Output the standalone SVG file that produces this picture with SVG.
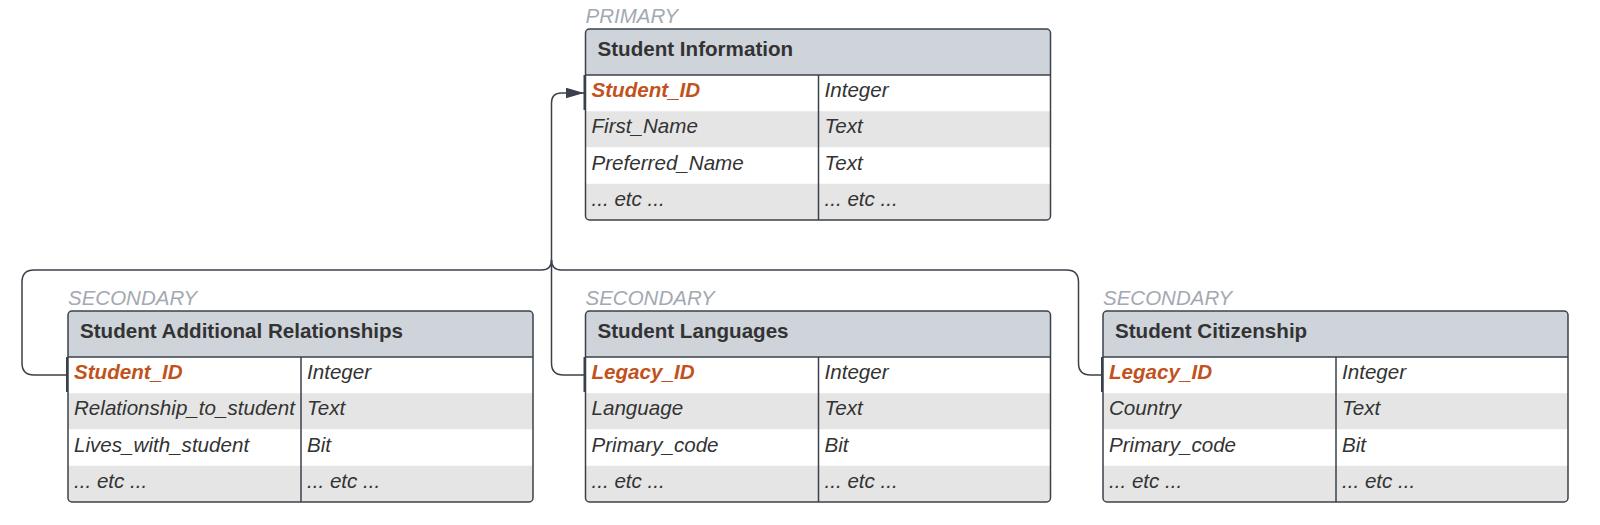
<svg xmlns="http://www.w3.org/2000/svg" width="1600" height="525" viewBox="0 0 1600 525">
  <defs>
    <clipPath id="tclip" clipPathUnits="userSpaceOnUse">
      <rect x="0" y="0" width="465" height="191" rx="4" ry="4"/>
    </clipPath>
    <marker id="arrow" markerUnits="userSpaceOnUse" markerWidth="20" markerHeight="12" refX="18" refY="5.3" orient="auto">
      <path d="M0,0 L18,5.3 L0,10.6 z" fill="#3a414a"/>
    </marker>
    <style>
      .hdr { fill: #cfd4db; }
      .w { fill: #ffffff; }
      .g { fill: #e5e5e5; }
      .edge { fill: none; stroke: #3a414a; stroke-width: 1.5; }
      .div { stroke: #3a414a; stroke-width: 1.5; }
      .bar { stroke: #3a414a; stroke-width: 2; }
      .lbl { font-family: "Liberation Sans", Arial, sans-serif; font-size: 20.5px; font-style: italic; fill: #a3a9b2; }
      .title { font-family: "Liberation Sans", Arial, sans-serif; font-size: 20.6px; font-weight: bold; fill: #333333; }
      .cell { font-family: "Liberation Sans", Arial, sans-serif; font-size: 20.6px; font-style: italic; fill: #333333; }
      .key { font-family: "Liberation Sans", Arial, sans-serif; font-size: 20.6px; font-style: italic; font-weight: bold; fill: #c2521d; }
      .conn { fill: none; stroke: #3a414a; stroke-width: 1.5; }
    </style>
  </defs>
  <rect x="0" y="0" width="1600" height="525" fill="#ffffff"/>

  <g id="connectors">
    <path class="conn" d="M68,375 H34 Q22,375 22,363 V282 Q22,270 34,270 H541.5 Q551.5,270 551.5,260 V103 Q551.5,93 561.5,93 H584" marker-end="url(#arrow)"/>
    <path class="conn" d="M585.5,375 H563.5 Q551.5,375 551.5,363 V260"/>
    <path class="conn" d="M1103,375 H1090.5 Q1078.5,375 1078.5,363 V282 Q1078.5,270 1066.5,270 H561.5 Q551.5,270 551.5,260"/>
  </g>

  <g id="student-information" transform="translate(585.5,29)">
    <text class="lbl" x="0" y="-6">PRIMARY</text>
    <g clip-path="url(#tclip)">
      <rect class="hdr" x="0" y="0" width="465" height="46"/>
      <rect class="w" x="0" y="46" width="465" height="36.25"/>
      <rect class="g" x="0" y="82.25" width="465" height="36.25"/>
      <rect class="w" x="0" y="118.5" width="465" height="36.25"/>
      <rect class="g" x="0" y="154.75" width="465" height="36.25"/>
    </g>
    <line class="div" x1="0" y1="46" x2="465" y2="46"/>
    <line class="div" x1="233" y1="46" x2="233" y2="191"/>
    <rect class="edge" x="0" y="0" width="465" height="191" rx="4" ry="4"/>
    <line class="bar" x1="-1" y1="46" x2="-1" y2="81"/>
    <text class="title" x="12" y="26.5">Student Information</text>
    <text class="key" x="6" y="68">Student_ID</text>
    <text class="cell" x="239" y="68">Integer</text>
    <text class="cell" x="6" y="104.25">First_Name</text>
    <text class="cell" x="239" y="104.25">Text</text>
    <text class="cell" x="6" y="140.5">Preferred_Name</text>
    <text class="cell" x="239" y="140.5">Text</text>
    <text class="cell" x="6" y="176.75">... etc ...</text>
    <text class="cell" x="239" y="176.75">... etc ...</text>
  </g>

  <g id="student-additional-relationships" transform="translate(68,311)">
    <text class="lbl" x="0" y="-6">SECONDARY</text>
    <g clip-path="url(#tclip)">
      <rect class="hdr" x="0" y="0" width="465" height="46"/>
      <rect class="w" x="0" y="46" width="465" height="36.25"/>
      <rect class="g" x="0" y="82.25" width="465" height="36.25"/>
      <rect class="w" x="0" y="118.5" width="465" height="36.25"/>
      <rect class="g" x="0" y="154.75" width="465" height="36.25"/>
    </g>
    <line class="div" x1="0" y1="46" x2="465" y2="46"/>
    <line class="div" x1="233" y1="46" x2="233" y2="191"/>
    <rect class="edge" x="0" y="0" width="465" height="191" rx="4" ry="4"/>
    <line class="bar" x1="-1" y1="46" x2="-1" y2="81"/>
    <text class="title" x="12" y="26.5">Student Additional Relationships</text>
    <text class="key" x="6" y="68">Student_ID</text>
    <text class="cell" x="239" y="68">Integer</text>
    <text class="cell" x="6" y="104.25">Relationship_to_student</text>
    <text class="cell" x="239" y="104.25">Text</text>
    <text class="cell" x="6" y="140.5">Lives_with_student</text>
    <text class="cell" x="239" y="140.5">Bit</text>
    <text class="cell" x="6" y="176.75">... etc ...</text>
    <text class="cell" x="239" y="176.75">... etc ...</text>
  </g>

  <g id="student-languages" transform="translate(585.5,311)">
    <text class="lbl" x="0" y="-6">SECONDARY</text>
    <g clip-path="url(#tclip)">
      <rect class="hdr" x="0" y="0" width="465" height="46"/>
      <rect class="w" x="0" y="46" width="465" height="36.25"/>
      <rect class="g" x="0" y="82.25" width="465" height="36.25"/>
      <rect class="w" x="0" y="118.5" width="465" height="36.25"/>
      <rect class="g" x="0" y="154.75" width="465" height="36.25"/>
    </g>
    <line class="div" x1="0" y1="46" x2="465" y2="46"/>
    <line class="div" x1="233" y1="46" x2="233" y2="191"/>
    <rect class="edge" x="0" y="0" width="465" height="191" rx="4" ry="4"/>
    <line class="bar" x1="-1" y1="46" x2="-1" y2="81"/>
    <text class="title" x="12" y="26.5">Student Languages</text>
    <text class="key" x="6" y="68">Legacy_ID</text>
    <text class="cell" x="239" y="68">Integer</text>
    <text class="cell" x="6" y="104.25">Language</text>
    <text class="cell" x="239" y="104.25">Text</text>
    <text class="cell" x="6" y="140.5">Primary_code</text>
    <text class="cell" x="239" y="140.5">Bit</text>
    <text class="cell" x="6" y="176.75">... etc ...</text>
    <text class="cell" x="239" y="176.75">... etc ...</text>
  </g>

  <g id="student-citizenship" transform="translate(1103,311)">
    <text class="lbl" x="0" y="-6">SECONDARY</text>
    <g clip-path="url(#tclip)">
      <rect class="hdr" x="0" y="0" width="465" height="46"/>
      <rect class="w" x="0" y="46" width="465" height="36.25"/>
      <rect class="g" x="0" y="82.25" width="465" height="36.25"/>
      <rect class="w" x="0" y="118.5" width="465" height="36.25"/>
      <rect class="g" x="0" y="154.75" width="465" height="36.25"/>
    </g>
    <line class="div" x1="0" y1="46" x2="465" y2="46"/>
    <line class="div" x1="233" y1="46" x2="233" y2="191"/>
    <rect class="edge" x="0" y="0" width="465" height="191" rx="4" ry="4"/>
    <line class="bar" x1="-1" y1="46" x2="-1" y2="81"/>
    <text class="title" x="12" y="26.5">Student Citizenship</text>
    <text class="key" x="6" y="68">Legacy_ID</text>
    <text class="cell" x="239" y="68">Integer</text>
    <text class="cell" x="6" y="104.25">Country</text>
    <text class="cell" x="239" y="104.25">Text</text>
    <text class="cell" x="6" y="140.5">Primary_code</text>
    <text class="cell" x="239" y="140.5">Bit</text>
    <text class="cell" x="6" y="176.75">... etc ...</text>
    <text class="cell" x="239" y="176.75">... etc ...</text>
  </g>
</svg>
